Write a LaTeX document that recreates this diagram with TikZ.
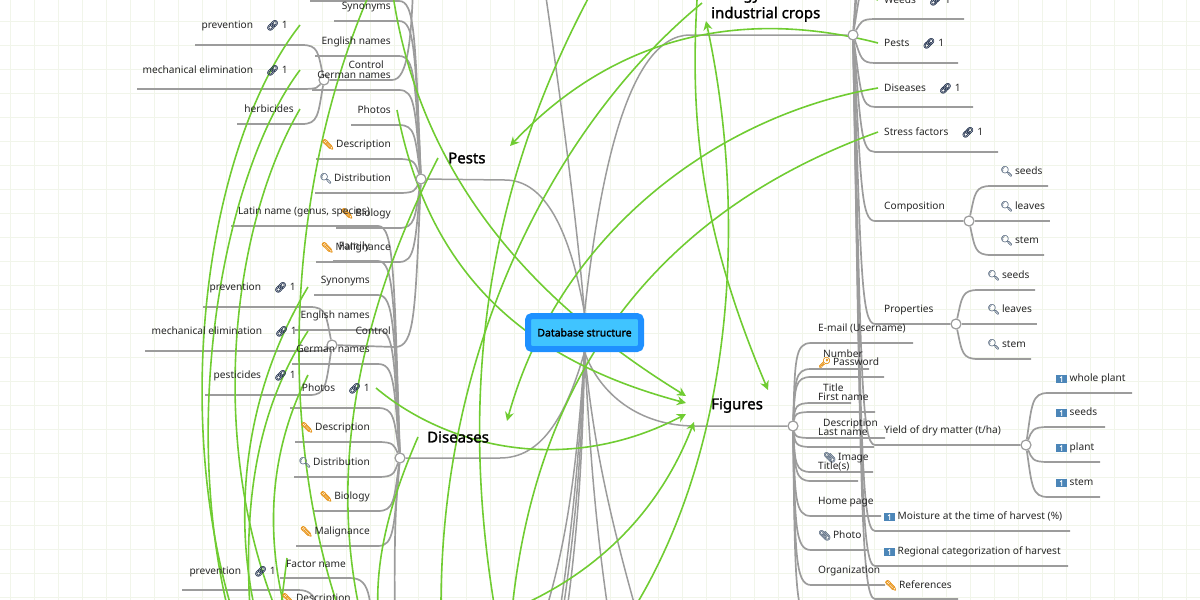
\documentclass[tikz,border=0pt]{standalone}
\usepackage{fontspec}
\setmainfont{Noto Sans}
\newfontfamily\headfont{Noto Sans}[FakeBold=1.6]
\newfontfamily\emojifont{Noto Emoji}[FakeBold=1.2]
\newfontfamily\emojithin{Noto Emoji}[FakeBold=0.4]
\usetikzlibrary{arrows.meta}
\definecolor{gridgreen}{HTML}{F1F5EA}
\definecolor{twiggray}{HTML}{9C9C9C}
\definecolor{relgreen}{HTML}{70CC32}
\definecolor{rootblue}{HTML}{1E90FF}
\definecolor{rootfill}{HTML}{40C4FF}
\definecolor{labeldark}{HTML}{262626}
\definecolor{linkdark}{HTML}{2B3A55}
\definecolor{pencilorange}{HTML}{E8961E}
\definecolor{lensgray}{HTML}{66768A}
\definecolor{badgeblue}{HTML}{4C86B8}
\pgfdeclarelayer{links}
\pgfsetlayers{links,main}
\newcommand{\linkone}{\hspace{13pt}{\color{linkdark}\emojithin\char"1F517}\hspace{3pt}1}
\newcommand{\pencilicon}{{\color{pencilorange}\emojifont\char"270F}\hspace{2pt}}
\newcommand{\lensicon}{{\color{lensgray}\emojithin\char"1F50D}\hspace{2pt}}
\newcommand{\clipicon}{{\color{lensgray}\emojithin\char"1F4CE}\hspace{2pt}}
\newcommand{\keyicon}{{\color{pencilorange}\emojifont\char"1F511}\hspace{2pt}}
\newcommand{\badgeicon}{{\fboxsep=1.5pt\colorbox{badgeblue}{\makebox[7.5pt]{\color{white}\fontsize{7.5}{7.5}\headfont 1}}}\hspace{3pt}}
\newcommand{\branchcurve}[6]{\draw[branch] (#1) .. controls (#2+#5,{#3+.8*(#4-#3)}) and (#2+#5,#4) .. (#2+#6,#4)}
\tikzset{
  leaf/.style={inner sep=0pt,text=labeldark,text height=9.8pt,text depth=2.2pt,font=\fontsize{10.15}{12}\selectfont},
  heading/.style={inner sep=0pt,text=black,align=left,font=\fontsize{15}{19}\headfont},
  hub/.style={circle,draw=twiggray,fill=white,line width=1.2pt,minimum size=10pt,inner sep=0pt},
  branch/.style={draw=twiggray,line width=1.7pt},
  rootline/.style={draw=twiggray,line width=1.5pt},
  relation/.style={draw=relgreen,line width=1.6pt},
  relarrow/.style={relation,-{Stealth[length=9pt,width=9pt]}},
  gridline/.style={draw=gridgreen,line width=1pt}
}
\begin{document}
\begin{tikzpicture}[x=1pt,y=-1pt]
    \useasboundingbox (0,0) rectangle (1200,600);
    \begin{pgfonlayer}{links}
        \foreach \x in {10,34,...,1186} \draw[gridline] (\x,0) -- (\x,600);
        \foreach \y in {21,45,...,597} \draw[gridline] (0,\y) -- (1200,\y);
    \end{pgfonlayer}

    % Root and headings
    \node[draw=rootblue,fill=rootfill,line width=6pt,rounded corners=4pt,minimum width=113pt,minimum height=33pt,inner sep=0pt,font=\fontsize{10.5}{12}\headfont] (root) at (584.5,332.5) {Database structure};
    \node[heading,anchor=south west] (crops) at (711,22) {Energy\\industrial crops};
    \node[heading,anchor=west] (pests) at (448,158) {Pests};
    \node[heading,anchor=west] (diseases) at (427,437) {Diseases};
    \node[heading,anchor=west] (figures) at (711,405.5) {Figures};

    % Hubs
    \node[hub] (hubCrops) at (853,35) {};
    \node[hub] (hubPests) at (421,179) {};
    \node[hub] (hubDiseases) at (400,458) {};
    \node[hub] (hubFigures) at (793,426) {};
    \node[hub] (hubComp) at (969,221) {};
    \node[hub] (hubProp) at (956,324) {};
    \node[hub] (hubYield) at (1026,445) {};
    \node[hub] (hubCtrlW) at (324,80) {};
    \node[hub] (hubCtrlP) at (332,345) {};
    \coordinate (offWeeds) at (414,-60);
    \coordinate (offFactor) at (372,670);
    \coordinate (offPrev) at (322,660);

    % Root branches
    \begin{pgfonlayer}{links}
        \draw[rootline] (root.north) .. controls (598,190) and (625,35) .. (690,35) -- (hubCrops);
        \draw[rootline] (root.north) .. controls (570,230) and (545,180) .. (505,180) -- (hubPests);
        \draw[rootline] (root.south) .. controls (565,420) and (540,458) .. (500,458) -- (hubDiseases);
        \draw[rootline] (root.south) .. controls (600,395) and (640,426) .. (695,426) -- (hubFigures);
        \foreach \nm/\xa/\ya/\xb/\yb/\xe/\ye in {upA/575/200/555/60/545/-10,dnA/578/450/570/530/546/610,dnB/580/450/572/530/560/610,dnC/582/450/575/530/563/610,dnD/583/450/578/530/567/610,dnE/590/450/595/520/608/610,dnF/592/430/605/500/636/610} {
            \coordinate (off\nm) at (\xe,\ye);
            \draw[rootline] (root.\ifnum\ya<300 north\else south\fi) .. controls (\xa,\ya) and (\xb,\yb) .. (off\nm);
        }
    \end{pgfonlayer}

    % Energy crops
    \foreach \nm/\yy/\dy/\xe/\txt in {cWeeds/19/19/964/{Weeds\linkone},cPests/63/20/958/{Pests\linkone},cDiseases/107/19/973/{Diseases\linkone},cStress/152/20/998/{Stress factors\linkone},cMoist/531/15/1070/{\badgeicon Moisture at the time of harvest (\%)},cRegion/566/15/1068/{\badgeicon Regional categorization of harvest},cRefs/599/14/958/{\pencilicon References}} {
        \node[leaf,anchor=west] (\nm) at (884,\yy-\dy) {\txt};
        \coordinate (e\nm) at (\xe,\yy);
        \begin{pgfonlayer}{links}
            \branchcurve{hubCrops}{853}{35}{\yy}{8}{22} -- (e\nm);
        \end{pgfonlayer}
    }
    \node[leaf,anchor=west] (cComp) at (884,206) {Composition};
    \node[leaf,anchor=west] (cProp) at (884,309) {Properties};
    \node[leaf,anchor=west] (cYield) at (884,430) {Yield of dry matter (t/ha)};
    \begin{pgfonlayer}{links}
        \branchcurve{hubCrops}{853}{35}{221}{8}{22} -- (hubComp);
        \branchcurve{hubCrops}{853}{35}{324}{8}{22} -- (hubProp);
        \branchcurve{hubCrops}{853}{35}{445}{8}{22} -- (hubYield);
        \foreach \nm/\yy in {upA/-25,upB/-70,upC/-115} {
            \coordinate (e\nm) at (960,\yy);
            \branchcurve{hubCrops}{853}{35}{\yy}{8}{22} -- (e\nm);
        }
    \end{pgfonlayer}

    % Composition, properties, yield
    \foreach \nm/\yy/\xe/\txt in {compSeeds/186/1048/{seeds},compLeaves/221/1050/{leaves},compStem/255/1044/{stem}} {
        \node[leaf,anchor=west] (\nm) at (1000,\yy-15) {\lensicon\txt};
        \coordinate (e\nm) at (\xe,\yy);
        \begin{pgfonlayer}{links}
            \branchcurve{hubComp}{969}{221}{\yy}{6}{22} -- (e\nm);
        \end{pgfonlayer}
    }
    \foreach \nm/\yy/\xe/\txt in {propSeeds/290/1035/{seeds},propLeaves/324/1037/{leaves},propStem/359/1031/{stem}} {
        \node[leaf,anchor=west] (\nm) at (987,\yy-15) {\lensicon\txt};
        \coordinate (e\nm) at (\xe,\yy);
        \begin{pgfonlayer}{links}
            \branchcurve{hubProp}{956}{324}{\yy}{6}{22} -- (e\nm);
        \end{pgfonlayer}
    }
    \foreach \nm/\yy/\xe/\txt in {yieldWhole/393/1132/{whole plant},yieldSeeds/427/1105/{seeds},yieldPlant/462/1100/{plant},yieldStem/497/1100/{stem}} {
        \node[leaf,anchor=west] (\nm) at (1056,\yy-15) {\badgeicon\txt};
        \coordinate (e\nm) at (\xe,\yy);
        \begin{pgfonlayer}{links}
            \branchcurve{hubYield}{1026}{445}{\yy}{6}{22} -- (e\nm);
        \end{pgfonlayer}
    }

    % Figures
    \foreach \nm/\xt/\yy/\xe/\txt in {fMail/818/343/913/{E-mail (Username)},fNumber/823/369/869/{Number},fPass/818/377/884/{\keyicon Password},fTitle/823/403/851/{Title},fFirst/818/412/875/{First name},fDesc/823/438/885/{Description},fLast/818/447/874/{Last name},fImage/823/472/873/{\clipicon Image},fTitles/818/481/858/{Title(s)},fHome/818/516/881/{Home page},fPhoto/818/550/867/{\clipicon Photo},fOrg/818/585/885/{Organization},fWeb/818/620/885/{Website}} {
        \node[leaf,anchor=west] (\nm) at (\xt,\yy-15) {\txt};
        \coordinate (e\nm) at (\xe,\yy);
        \begin{pgfonlayer}{links}
            \branchcurve{hubFigures}{793}{426}{\yy}{2}{18} -- (e\nm);
        \end{pgfonlayer}
    }

    % Pests
    \foreach \nm/\yy/\xe/\txt in {pSyn/21/334/{Synonyms},pEng/56/315/{English names},pGer/90/312/{German names},pPhotos/125/351/{Photos},pDesc/159/316/{\pencilicon Description},pDist/193/315/{\lensicon Distribution},pBio/228/336/{\pencilicon Biology},pMal/262/316/{\pencilicon Malignance}} {
        \node[leaf,anchor=east] (\nm) at (391,\yy-15) {\txt};
        \coordinate (e\nm) at (\xe,\yy);
        \begin{pgfonlayer}{links}
            \branchcurve{hubPests}{421}{179}{\yy}{-6}{-22} -- (e\nm);
        \end{pgfonlayer}
    }
    \node[leaf,anchor=east] (pCtrl) at (391,331) {Control};
    \coordinate (ePestTop) at (310,1);
    \begin{pgfonlayer}{links}
        \branchcurve{hubPests}{421}{179}{1}{-6}{-22} -- (ePestTop);
        \branchcurve{hubPests}{421}{179}{347}{-6}{-26} -- (hubCtrlP);
    \end{pgfonlayer}
    \foreach \nm/\xt/\yy/\xe/\txt in {pPrev/296/307/203/{prevention\linkone},pMech/297/351/145/{mechanical elimination\linkone},pPesti/296/395/205/{pesticides\linkone}} {
        \node[leaf,anchor=east] (\nm) at (\xt,\yy-20) {\txt};
        \coordinate (e\nm) at (\xe,\yy);
        \begin{pgfonlayer}{links}
            \branchcurve{hubCtrlP}{332}{345}{\yy}{-6}{-22} -- (e\nm);
        \end{pgfonlayer}
    }

    % Control under the weeds
    \node[leaf,anchor=east] (wCtrl) at (384,65) {Control};
    \begin{pgfonlayer}{links}
        \draw[branch] (offWeeds) .. controls (413,40) and (408,80) .. (392,80) -- (hubCtrlW);
    \end{pgfonlayer}
    \foreach \nm/\xt/\yy/\xe/\dy/\txt in {wPrev/288/45/195/20/{prevention\linkone},wMech/288/89/137/19/{mechanical elimination\linkone},wHerb/294/124/237/15/{herbicides}} {
        \node[leaf,anchor=east] (\nm) at (\xt,\yy-\dy) {\txt};
        \coordinate (e\nm) at (\xe,\yy);
        \begin{pgfonlayer}{links}
            \branchcurve{hubCtrlW}{324}{80}{\yy}{-6}{-22} -- (e\nm);
        \end{pgfonlayer}
    }

    % Diseases
    \foreach \nm/\yy/\dy/\xe/\txt in {dLatin/226/15/231/{Latin name (genus, species)},dFamily/261/15/333/{Family},dSyn/295/15/314/{Synonyms},dEng/330/15/295/{English names},dGer/364/15/292/{German names},dPhotos/408/20/290/{Photos\linkone\hspace{6pt}},dDesc/442/15/295/{\pencilicon Description},dDist/477/15/294/{\lensicon Distribution},dBio/511/15/314/{\pencilicon Biology},dMal/546/15/296/{\pencilicon Malignance}} {
        \node[leaf,anchor=east] (\nm) at (370,\yy-\dy) {\txt};
        \coordinate (e\nm) at (\xe,\yy);
        \begin{pgfonlayer}{links}
            \branchcurve{hubDiseases}{400}{458}{\yy}{-6}{-22} -- (e\nm);
        \end{pgfonlayer}
    }

    % Factors below the picture
    \node[leaf,anchor=west] (factorName) at (286,564) {Factor name};
    \node[leaf,anchor=east] (factorPrev) at (276,571) {prevention\linkone};
    \node[leaf,anchor=west] (factorDesc) at (281,598) {\pencilicon Description};
    \coordinate (eFactorName) at (280,578);
    \coordinate (eFactorPrev) at (182,590);
    \coordinate (offDown) at (395,620);
    \begin{pgfonlayer}{links}
        \draw[branch] (offFactor) .. controls (372,600) and (372,578) .. (350,578) -- (eFactorName);
        \draw[branch] (offPrev) .. controls (320,605) and (318,590) .. (298,590) -- (eFactorPrev);
        \draw[branch] (hubDiseases) .. controls (395,500) and (394,560) .. (offDown);
    \end{pgfonlayer}

    % Relationships
    \foreach \nm/\x/\y in {inPests/510/146,inDiseases/507/421,inFigA/686/396,inFigB/686/403,inFigC/686/414,inFigD/694/422,inFigE/768/390,inCrops/706/21,stFigA/393/-5,stEnergy/702/3,stTop/590/-5,stBelowA/630/615,stBelowB/520/606,stTopL/368/-3,endStress/512/610,endEnergy/441/610,endTop/495/610,endWPrev/232/610,endWMech/228/610,endWHerb/276/610,endPPrev/255/610,endPMech/250/610,endPPesti/285/610,endTopL/339/610,endPests/360/612,endDiseases/378/612,endFactor/281/606} {
        \coordinate (\nm) at (\x,\y);
    }
    \begin{pgfonlayer}{links}
        \draw[relarrow] ([xshift=-6pt]cPests.west) .. controls (750,10) and (620,30) .. (inPests);
        \draw[relarrow] ([xshift=-6pt]cDiseases.west) .. controls (720,115) and (560,230) .. (inDiseases);
        \draw[relation] ([xshift=-6pt]cStress.west) .. controls (690,200) and (540,340) .. (endStress);
        \draw[relarrow] (stBelowA) .. controls (740,440) and (745,200) .. (inCrops);
        \draw[relation] (stEnergy) .. controls (560,120) and (440,340) .. (endEnergy);
        \draw[relarrow] ([xshift=-6pt]cWeeds.west) .. controls (780,-40) and (700,-40) .. (697,0) .. controls (690,120) and (700,230) .. (inFigE);
        \draw[relation] (stTop) .. controls (470,220) and (465,430) .. (endTop);
        \draw[relarrow] (stFigA) .. controls (420,175) and (530,300) .. (inFigA);
        \draw[relarrow] ([xshift=6pt]pPhotos.east) .. controls (425,255) and (505,355) .. (inFigB);
        \draw[relarrow] ([xshift=6pt]dPhotos.east) .. controls (450,450) and (570,475) .. (inFigC);
        \draw[relarrow] (stBelowB) .. controls (600,570) and (660,510) .. (inFigD);
        \draw[relation] ([xshift=-10pt]pests.west) .. controls (370,290) and (325,450) .. (endPests);
        \draw[relation] ([xshift=-9pt]diseases.west) .. controls (395,490) and (375,550) .. (endDiseases);
        \draw[relation] ([xshift=12pt]wPrev.east) .. controls (210,140) and (170,400) .. (endWPrev);
        \draw[relation] ([xshift=12pt]wMech.east) .. controls (225,170) and (180,410) .. (endWMech);
        \draw[relation] ([xshift=6pt]wHerb.east) .. controls (235,220) and (205,430) .. (endWHerb);
        \draw[relation] (stTopL) .. controls (290,180) and (275,420) .. (endTopL);
        \draw[relation] ([xshift=12pt]pPrev.east) .. controls (240,400) and (235,520) .. (endPPrev);
        \draw[relation] ([xshift=11pt]pMech.east) .. controls (250,420) and (245,520) .. (endPMech);
        \draw[relation] ([xshift=12pt]pPesti.east) .. controls (270,450) and (265,530) .. (endPPesti);
        \draw[relation] ([xshift=1pt,yshift=6pt]factorName.west) -- (endFactor);
    \end{pgfonlayer}
\end{tikzpicture}
\end{document}
